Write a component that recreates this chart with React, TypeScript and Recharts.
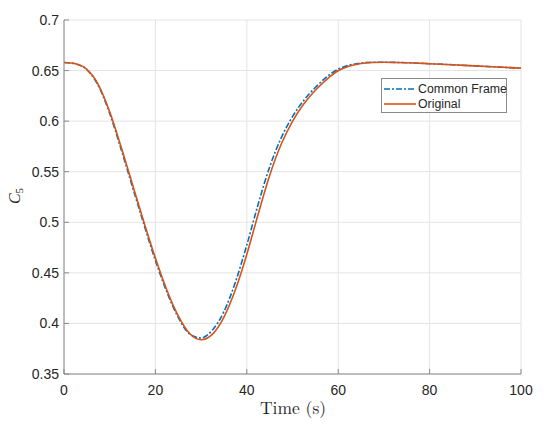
import React from 'react';
import { LineChart, Line, XAxis, YAxis, CartesianGrid, Legend } from 'recharts';

// time samples (s)
const time = [0, 2.5, 5, 7.5, 10, 12.5, 15, 17.5, 20, 22.5, 25, 27.5, 30, 32.5, 35, 37.5, 40, 42.5, 45, 47.5, 50, 52.5, 55, 57.5, 60, 62.5, 65, 67.5, 70, 75, 80, 85, 90, 95, 100];
// C5 with the common frame (dash-dot)
const commonFrame = [0.658, 0.6567, 0.6508, 0.6352, 0.6075, 0.5722, 0.5347, 0.4977, 0.4622, 0.4311, 0.406, 0.3895, 0.3856, 0.3936, 0.4117, 0.4407, 0.4775, 0.5181, 0.5547, 0.5832, 0.6045, 0.6207, 0.6333, 0.6438, 0.6514, 0.6554, 0.6574, 0.6582, 0.6583, 0.6578, 0.6568, 0.6557, 0.6546, 0.6535, 0.6524];
// C5 original (solid)
const original = [0.658, 0.6568, 0.6512, 0.6362, 0.6093, 0.5745, 0.5372, 0.5001, 0.4646, 0.4331, 0.4075, 0.39, 0.3838, 0.3894, 0.4063, 0.4332, 0.4682, 0.5082, 0.5463, 0.5769, 0.5998, 0.6171, 0.6305, 0.6414, 0.6498, 0.6545, 0.657, 0.658, 0.6583, 0.6578, 0.6568, 0.6557, 0.6546, 0.6535, 0.6524];

const xTicks = [0, 20, 40, 60, 80, 100];
const yTicks = [0.35, 0.4, 0.45, 0.5, 0.55, 0.6, 0.65, 0.7];

const BLUE = '#0072BD';
const ORANGE = '#D95319';
const AXIS = '#8a8a8a';
const TEXT = '#262626';

const data = time.map((t, i) => ({ t, cf: commonFrame[i], orig: original[i] }));

const tickFont = { fill: TEXT, fontSize: 14, fontFamily: '"Liberation Sans", Arial, sans-serif' };

function LegendBox() {
  return (
    <div
      style={{
        width: 124,
        height: 33,
        border: `1px solid ${AXIS}`,
        background: '#fff',
        fontFamily: '"Liberation Sans", Arial, sans-serif',
        fontSize: 12.3,
        color: TEXT,
        position: 'relative',
        whiteSpace: 'nowrap',
      }}
    >
      <svg width={36} height={33} style={{ position: 'absolute', left: 0, top: 0 }}>
        <line x1={2} x2={34} y1={10} y2={10} stroke={BLUE} strokeWidth={1.6} strokeDasharray="6 2 2 2" />
        <line x1={2} x2={34} y1={25} y2={25} stroke={ORANGE} strokeWidth={1.6} />
      </svg>
      <div style={{ position: 'absolute', left: 36, top: 2, lineHeight: '16px' }}>Common Frame</div>
      <div style={{ position: 'absolute', left: 36, top: 17, lineHeight: '16px' }}>Original</div>
    </div>
  );
}

export default function App() {
  return (
    <LineChart width={534} height={413} data={data} margin={{ top: 12, right: 21, left: 0, bottom: 0 }}>
      <CartesianGrid stroke="#e4e4e4" strokeWidth={1} />
      <XAxis
        dataKey="t"
        type="number"
        domain={[0, 100]}
        ticks={xTicks}
        height={47}
        stroke={AXIS}
        tickSize={-5}
        tickMargin={16}
        tick={tickFont}
        label={{
          content: () => (
            <text x={285} y={406} textAnchor="middle" fill={TEXT} fontSize={17.5} fontFamily='"Latin Modern Roman", "Liberation Serif", "DejaVu Serif", serif'>
              Time (s)
            </text>
          ),
        }}
      />
      <XAxis xAxisId="top" orientation="top" dataKey="t" type="number" domain={[0, 100]} ticks={xTicks} height={0} stroke={AXIS} tickSize={-5} tick={false} />
      <YAxis
        type="number"
        domain={[0.35, 0.7]}
        ticks={yTicks}
        width={56}
        stroke={AXIS}
        tickSize={-5}
        tickMargin={10}
        tick={tickFont}
        tickFormatter={(v: number) => String(+v.toFixed(2))}
        label={{
          content: () => (
            <text
              x={12}
              y={188}
              transform="rotate(-90, 12, 188)"
              textAnchor="middle"
              fill={TEXT}
              fontSize={16}
              fontFamily='"Liberation Serif", serif'
            >
              <tspan fontStyle="italic">C</tspan>
              <tspan fontSize={11} dy={3}>5</tspan>
            </text>
          ),
        }}
      />
      <YAxis yAxisId="right" orientation="right" type="number" domain={[0.35, 0.7]} ticks={yTicks} width={0} stroke={AXIS} tickSize={-5} tick={false} />
      <Legend
        layout="horizontal"
        verticalAlign="middle"
        align="center"
        content={() => <LegendBox />}
        wrapperStyle={{ left: 373, top: 70, width: 126, bottom: 'auto', right: 'auto' }}
      />
      <Line dataKey="cf" name="Common Frame" type="monotone" stroke={BLUE} strokeWidth={1.6} strokeDasharray="6 2 2 2" dot={false} isAnimationActive={false} />
      <Line dataKey="orig" name="Original" type="monotone" stroke={ORANGE} strokeWidth={1.6} dot={false} isAnimationActive={false} />
    </LineChart>
  );
}
